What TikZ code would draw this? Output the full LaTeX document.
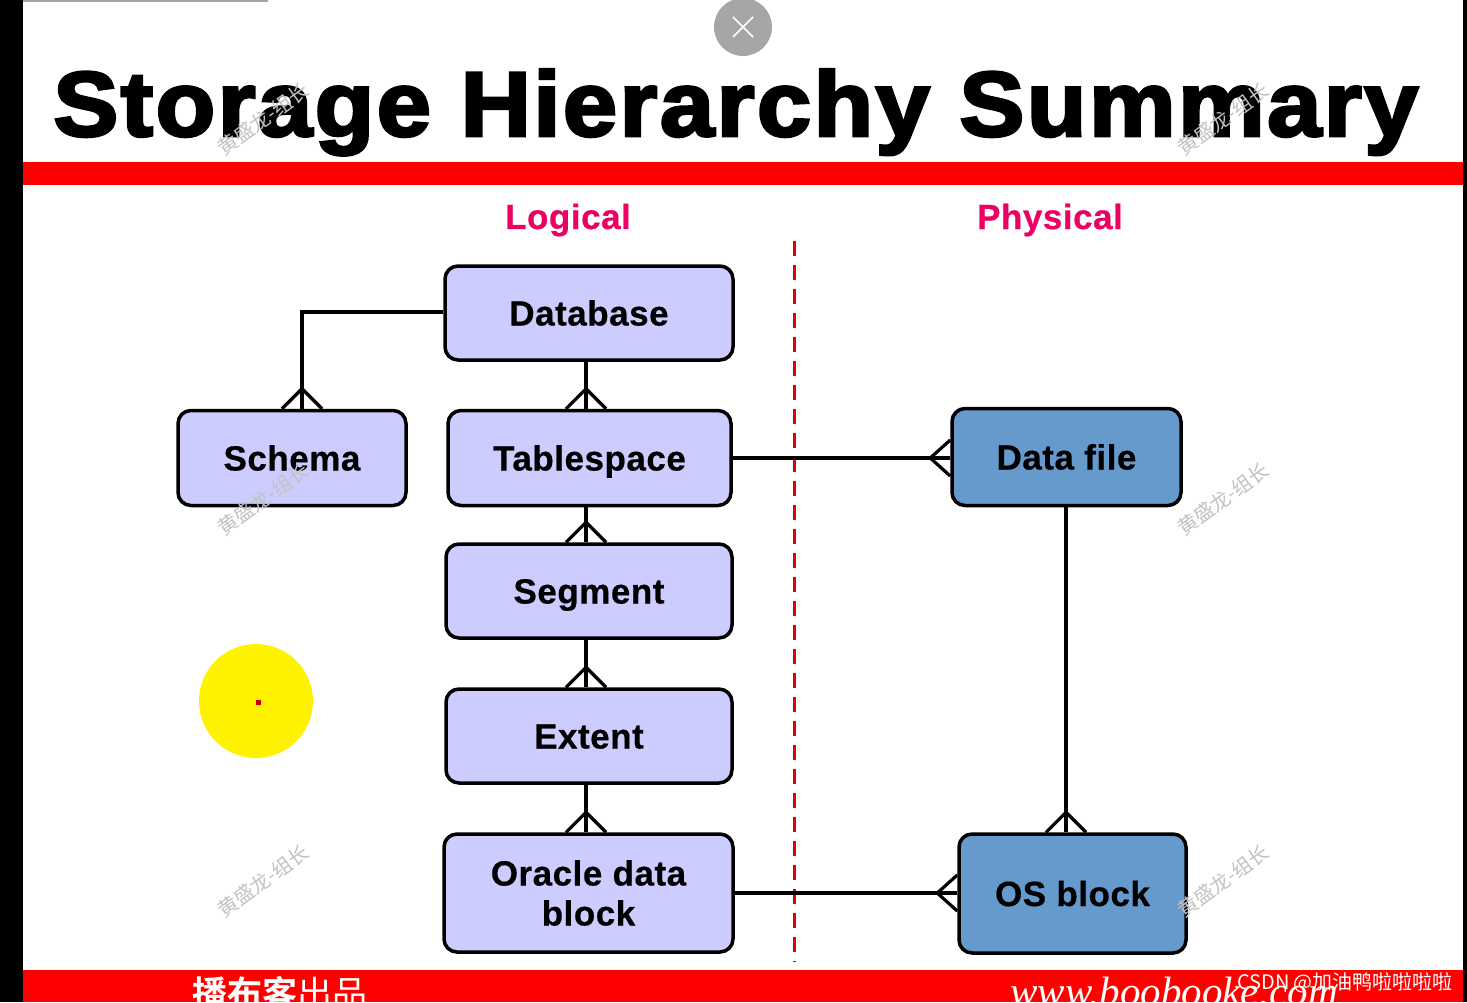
\documentclass[tikz,border=0pt]{standalone}
\usepackage{fontspec}
\setmainfont{Liberation Sans}
\newfontfamily\titlefont[FakeBold=3,LetterSpace=2.5]{Liberation Sans Bold}
\newfontfamily\boxfont[FakeBold=0.5,LetterSpace=1.5]{Liberation Sans Bold}
\newfontfamily\cjkfont{Noto Sans CJK SC}
\newfontfamily\cjkbold{Noto Sans CJK SC Bold}
\newfontfamily\webfont{Liberation Serif}
\usetikzlibrary{calc}
\definecolor{boxlilac}{RGB}{204,204,255}
\definecolor{boxblue}{RGB}{102,153,204}
\definecolor{headred}{RGB}{235,0,100}
\tikzset{
	entity/.style={draw=black, line width=3.5pt, rounded corners=13pt, fill=boxlilac, align=center, font=\boxfont\fontsize{35}{40}\selectfont, inner sep=0pt, text height=25pt, text depth=0pt},
	physical/.style={entity, fill=boxblue},
	link/.style={draw=black, line width=3.2pt},
	stamp/.style={rotate=36, text=black!24, font=\cjkfont\fontsize{20}{20}\selectfont, inner sep=0pt},
	heading/.style={text=headred, font=\boxfont\fontsize{35}{40}\selectfont, inner sep=0pt},
}
\newcommand{\crowup}[1]{\draw[link] ($(#1)+(-20,0)$) -- ($(#1)+(0,-20)$) -- ($(#1)+(20,0)$);}
\newcommand{\crowleft}[1]{\draw[link] ($(#1)+(0,-18)$) -- ($(#1)+(-20,0)$) -- ($(#1)+(0,18)$);}
\begin{document}
\begin{tikzpicture}[x=1pt, y=-1pt]
	\useasboundingbox (0,0) rectangle (1467,1002);
	\clip (0,0) rectangle (1467,1002);
	% frame and stripes
	\fill[white] (0,0) rectangle (1467,1002);
	\fill[black] (0,0) rectangle (23,1002);
	\fill[black] (1463,0) rectangle (1467,1002);
	\fill[black!35] (23,0) rectangle (268,2);
	\fill[red] (23,162) rectangle (1463,185);
	\fill[red] (23,970) rectangle (1463,1002);
	% title
	\node[inner sep=0pt, anchor=base, xscale=1.06, font=\titlefont\fontsize{92}{92}\selectfont] (title) at (736,136) {Storage Hierarchy Summary};
	\node[heading] (logical) at (568,220) {Logical};
	\node[heading] (physicalhead) at (1050,220) {Physical};
	\draw[red!90!black, line width=3pt, dash pattern=on 15pt off 9pt] (794,241) -- (794,962);
	% close button
	\node[circle, fill=black!35, minimum size=58pt, inner sep=0pt] (closebtn) at (743,27) {};
	\draw[white, line width=1.5pt] ($(closebtn)+(-10,-10)$) -- ($(closebtn)+(10,10)$);
	\draw[white, line width=1.5pt] ($(closebtn)+(10,-10)$) -- ($(closebtn)+(-10,10)$);
	% pointer
	\node[circle, fill=yellow, minimum size=114pt, inner sep=0pt] (pointer) at (256,701) {};
	\fill[red!80!black] (255.5,699.5) rectangle (260.5,704.5);
	% boxes
	\node[entity, minimum width=288pt, minimum height=94pt] (database) at (589,313) {Database};
	\node[entity, minimum width=283pt, minimum height=95pt] (tablespace) at (589.5,458) {Tablespace};
	\node[entity, minimum width=286pt, minimum height=94pt] (segment) at (589,591) {Segment};
	\node[entity, minimum width=286pt, minimum height=94pt] (extent) at (589,736) {Extent};
	\node[entity, minimum width=289pt, minimum height=118pt, text height=65pt] (oracleblock) at (588.5,893) {Oracle data\\block};
	\node[entity, minimum width=228pt, minimum height=95pt] (schema) at (292,458) {Schema};
	\node[physical, minimum width=229pt, minimum height=97pt] (datafile) at (1066.5,457) {Data file};
	\node[physical, minimum width=227pt, minimum height=119pt] (osblock) at (1072.5,893.5) {OS block};
	% connectors
	\coordinate (schemafoot) at (schema.north -| 302,0);
	\draw[link] (database.west |- 0,312) -| (schemafoot);
	\draw[link] (database.south -| 586,0) -- (tablespace.north -| 586,0);
	\draw[link] (tablespace.south -| 586,0) -- (segment.north -| 586,0);
	\draw[link] (segment.south -| 586,0) -- (extent.north -| 586,0);
	\draw[link] (extent.south -| 586,0) -- (oracleblock.north -| 586,0);
	\draw[link] (tablespace.east |- 0,458) -- (datafile.west |- 0,458);
	\draw[link] (oracleblock.east |- 0,893) -- (osblock.west |- 0,893);
	\draw[link] (datafile.south -| 1066,0) -- (osblock.north -| 1066,0);
	\crowup{schemafoot}
	\crowup{tablespace.north -| 586,0}
	\crowup{segment.north -| 586,0}
	\crowup{extent.north -| 586,0}
	\crowup{oracleblock.north -| 586,0}
	\crowup{osblock.north -| 1066,0}
	\crowleft{datafile.west |- 0,458}
	\crowleft{osblock.west |- 0,893}
	% footer
	\node[text=white, font=\fontsize{35}{35}\selectfont, inner sep=0pt] (footcn) at (280,993) {\cjkbold 播布客\cjkfont 出品};
	\node[text=white, font=\webfont\itshape\fontsize{41}{41}\selectfont, inner sep=0pt] (footweb) at (1174,992) {www.boobooke.com};
	\node[text=white, font=\cjkfont\fontsize{20}{20}\selectfont, inner sep=0pt] (csdn) at (1345,983) {CSDN @加油鸭啦啦啦啦};
	% watermarks
	\foreach \wx/\wy in {263/119, 1223/119, 263/499, 1223/499, 263/881, 1223/881}
		\node[stamp] at (\wx,\wy) {黄盛龙-组长};
\end{tikzpicture}
\end{document}
